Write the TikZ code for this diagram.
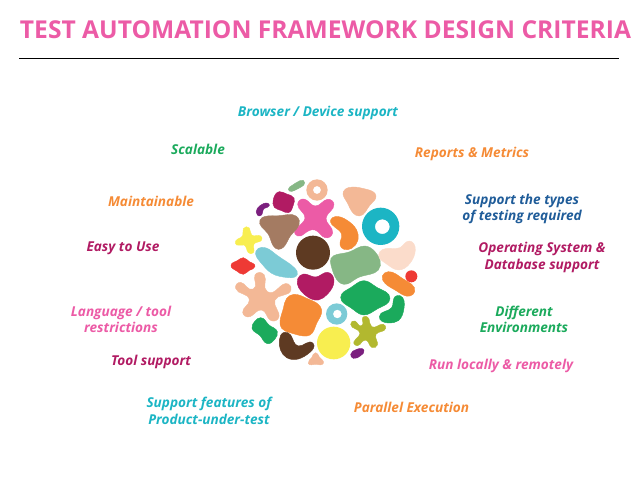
\documentclass[tikz,border=0pt]{standalone}
\usepackage{fontspec}
\usetikzlibrary{hobby}
\setmainfont{Open Sans}
\definecolor{cpink}{HTML}{EC5BA6}
\definecolor{cteal}{HTML}{1CB5C4}
\definecolor{cgreen}{HTML}{1BAA5C}
\definecolor{corange}{HTML}{F58B36}
\definecolor{cblue}{HTML}{1F5C99}
\definecolor{cberry}{HTML}{B11B63}
\definecolor{cpeach}{HTML}{F3B896}
\definecolor{cbrown}{HTML}{5E3A22}
\definecolor{ctan}{HTML}{A47B62}
\definecolor{cyel}{HTML}{F8EE50}
\definecolor{cred}{HTML}{EE3A35}
\definecolor{clblue}{HTML}{7CCBD6}
\definecolor{csage}{HTML}{86B785}
\definecolor{clpeach}{HTML}{FBDCCB}
\definecolor{cpurple}{HTML}{7B1F7E}
\definecolor{colive}{HTML}{B2B82F}
\tikzset{
 lab/.style={font=\fontsize{10.2pt}{12.4pt}\selectfont\bfseries\itshape,align=center,inner sep=0pt},
 titletext/.style={font=\fontsize{18.45pt}{22pt}\selectfont\bfseries,text=cpink,inner sep=0pt},
}
\newcommand{\blobshape}[2]{\filldraw[#1,line width=0.3pt,line join=round] plot[closed hobby] coordinates {#2};}
\begin{document}
\begin{tikzpicture}[x=0.75pt,y=-0.75pt]
\useasboundingbox (0,0) rectangle (638,478);
\node[titletext] (title) at (325.5,30) {TEST AUTOMATION FRAMEWORK DESIGN CRITERIA};
\coordinate (ruleL) at (19,58);
\coordinate (ruleR) at (619,58);
\draw[black,line width=0.7pt] (ruleL) -- (ruleR);
\node[lab,text=cteal] (n1) at (318,113) {Browser / Device support};
\node[lab,text=cgreen] (n2) at (198,149) {Scalable};
\node[lab,text=corange] (n3) at (472,154) {Reports \& Metrics};
\node[lab,text=corange] (n4) at (151,201) {Maintainable};
\node[lab,text=cblue] (n5) at (522,209) {Support the types\\of testing required};
\node[lab,text=cberry] (n6) at (123,248) {Easy to Use};
\node[lab,text=cberry] (n7) at (542,257.5) {Operating System \&\\Database support};
\node[lab,text=cpink] (n8) at (121,319.5) {Language / tool\\restrictions};
\node[lab,text=cgreen] (n9) at (524,319.5) {Different\\Environments};
\node[lab,text=cberry] (n10) at (151,362) {Tool support};
\node[lab,text=cpink] (n11) at (501,366) {Run locally \& remotely};
\node[lab,text=cteal] (n12) at (209,411) {Support features of\\Product-under-test};
\node[lab,text=corange] (n13) at (411.5,407) {Parallel Execution};
% upper blobs
\begin{scope}[shift={(220,170)},x=0.25pt,y=-0.25pt]
\blobshape{csage}{(205,58)(215,47)(254,38)(245,50)(222,62)(208,63)}
\fill[cpeach,even odd rule] (291,60) circle (32) (291,60) circle (12);
\blobshape{cberry}{(160,88)(178,65)(200,72)(222,84)(220,105)(205,128)(185,122)(163,112)}
\blobshape{cpurple}{(112,135)(112,115)(130,101)(148,107)(133,115)(122,137)}
\blobshape{cpeach}{(370,65)(385,53)(440,58)(468,78)(450,105)(418,138)(400,130)(380,95)}
\blobshape{cpink}{(233,103)(252,87)(285,108)(322,88)(342,103)(318,145)(338,188)(315,203)(285,180)(252,192)(233,198)(255,145)}
\blobshape{ctan}{(120,150)(133,140)(180,137)(228,138)(238,152)(211,198)(190,232)(175,238)(160,228)(143,190)}
\blobshape{corange}{(332,150)(345,140)(380,150)(410,180)(414,210)(395,235)(372,238)(360,225)(365,195)(345,172)(335,163)}
\fill[cteal,even odd rule] (482,169) circle (56) (487,170) circle (22);
\blobshape{cyel}{(70,176)(88,174)(95,195)(122,198)(125,210)(102,222)(100,248)(85,248)(72,225)(50,225)(47,213)(68,197)}
\fill[cbrown] (279,248) circle (51);
\end{scope}
% middle
\begin{scope}[shift={(220,265)},x=0.25pt,y=-0.25pt]
\blobshape{cred}{(33,1)(52,-13)(70,-22)(88,-10)(105,4)(88,16)(70,28)(50,18)}
\blobshape{clblue}{(108,-42)(125,-53)(170,-30)(225,10)(232,28)(205,38)(155,25)(120,-10)}
\blobshape{csage}{(333,-20)(352,-32)(390,-40)(435,-57)(465,-40)(475,15)(450,28)(410,40)(372,58)(345,35)(333,0)}
\blobshape{clpeach}{(476,-30)(510,-50)(540,-52)(568,-72)(586,-45)(570,-5)(535,15)(497,-5)}
\blobshape{cberry}{(233,42)(250,27)(288,36)(322,22)(342,45)(322,88)(295,105)(255,90)}
\fill[cred] (574,34) circle (18);
\blobshape{corange}{(487,33)(505,20)(550,42)(584,80)(570,93)(530,78)(495,55)}
\blobshape{cpeach}{(47,70)(62,52)(100,72)(105,30)(133,30)(142,80)(205,57)(213,75)(165,105)(175,160)(150,165)(125,135)(90,155)(68,142)(88,105)}
\blobshape{cgreen}{(362,97)(392,68)(432,47)(472,68)(510,100)(475,130)(430,150)(392,128)}
\blobshape{cgreen}{(525,95)(540,92)(552,130)(535,167)(505,174)(478,155)(515,128)}
\blobshape{corange}{(200,100)(222,88)(260,100)(295,118)(305,135)(290,175)(270,210)(250,213)(210,203)(185,190)(180,170)(190,130)}
\fill[clblue,even odd rule] (350,147) circle (32) (352,147) circle (13);
\blobshape{cgreen}{(122,158)(147,180)(172,200)(165,222)(142,236)(120,212)(96,190)(105,168)}
\blobshape{colive}{(392,178)(405,168)(425,182)(428,158)(447,162)(455,185)(490,178)(497,190)(468,208)(472,240)(455,247)(435,225)(420,238)(405,240)(420,205)}
\blobshape{cbrown}{(178,225)(192,202)(212,210)(235,243)(280,236)(270,262)(235,282)(200,278)}
\fill[cyel] (341,234) ellipse (50 and 49);
\blobshape{cpurple}{(392,268)(410,253)(432,256)(422,272)(400,280)}
\blobshape{cpeach}{(265,295)(275,278)(287,263)(298,276)(310,295)(287,298)}
\end{scope}
\end{tikzpicture}
\end{document}
